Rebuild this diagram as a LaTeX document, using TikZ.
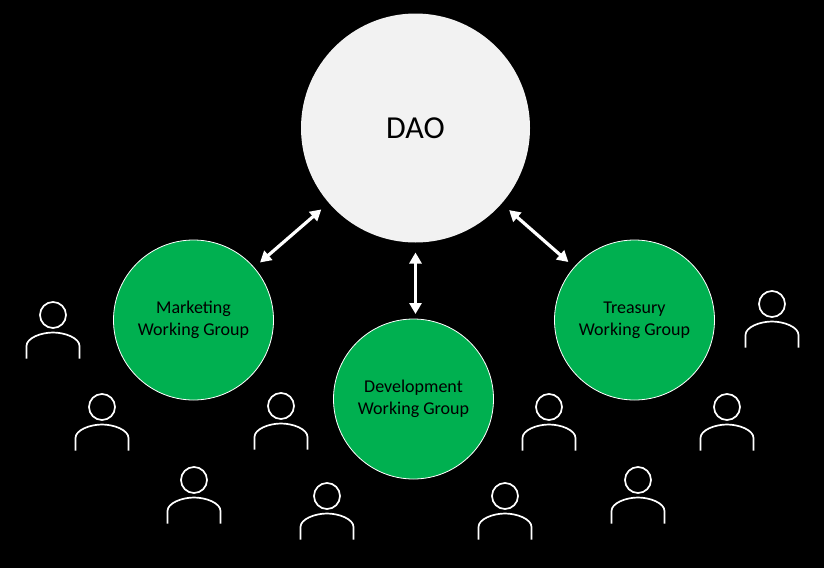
\documentclass[tikz,border=0pt]{standalone}
\usepackage{fontspec}
\setmainfont{Carlito}
\usetikzlibrary{arrows.meta}
\definecolor{daogray}{HTML}{F2F2F2}
\definecolor{wggreen}{HTML}{00B050}
\tikzset{
  wg/.style={circle,draw=white,line width=0.8pt,fill=wggreen,text=black,align=center,minimum size=160pt,inner sep=0pt,outer sep=0pt,font=\fontsize{18}{22}\selectfont},
  link/.style={{Triangle[length=11pt,width=12pt]}-{Triangle[length=11pt,width=12pt]},white,line width=3.2pt},
  person/.style={white,line width=1.7pt}
}
\begin{document}
\begin{tikzpicture}[x=1pt,y=-1pt]
\fill[black] (0,0) rectangle (824,568);

\node[circle,fill=daogray,text=black,minimum size=229pt,inner sep=0pt,outer sep=0pt,font=\fontsize{32}{38}\selectfont] (dao) at (415.5,128) {DAO};
\node[wg] (mkt) at (193.5,320) {Marketing\\Working Group};
\node[wg] (dev) at (413.5,399) {Development\\Working Group};
\node[wg] (trs) at (634.5,320) {Treasury\\Working Group};

\draw[link,shorten <=10pt,shorten >=8pt] (dao) -- (mkt);
\draw[link,shorten <=10pt,shorten >=5pt] (dao.south) -- (dao.south |- dev.north);
\draw[link,shorten <=10pt,shorten >=8pt] (dao) -- (trs);

% people
\foreach \x/\y in {53/315,102/407,194/480,281/406,327/496,505/496,549/407,638/480,727/407,772/304}{
  \draw[person] (\x,\y) circle (13);
  \draw[person] (\x-26.5,\y+43.5) -- (\x-26.5,\y+31) .. controls (\x-26.5,\y+23) and (\x-12,\y+17.5) .. (\x,\y+17.5) .. controls (\x+12,\y+17.5) and (\x+26.5,\y+23) .. (\x+26.5,\y+31) -- (\x+26.5,\y+43.5);
}
\end{tikzpicture}
\end{document}
